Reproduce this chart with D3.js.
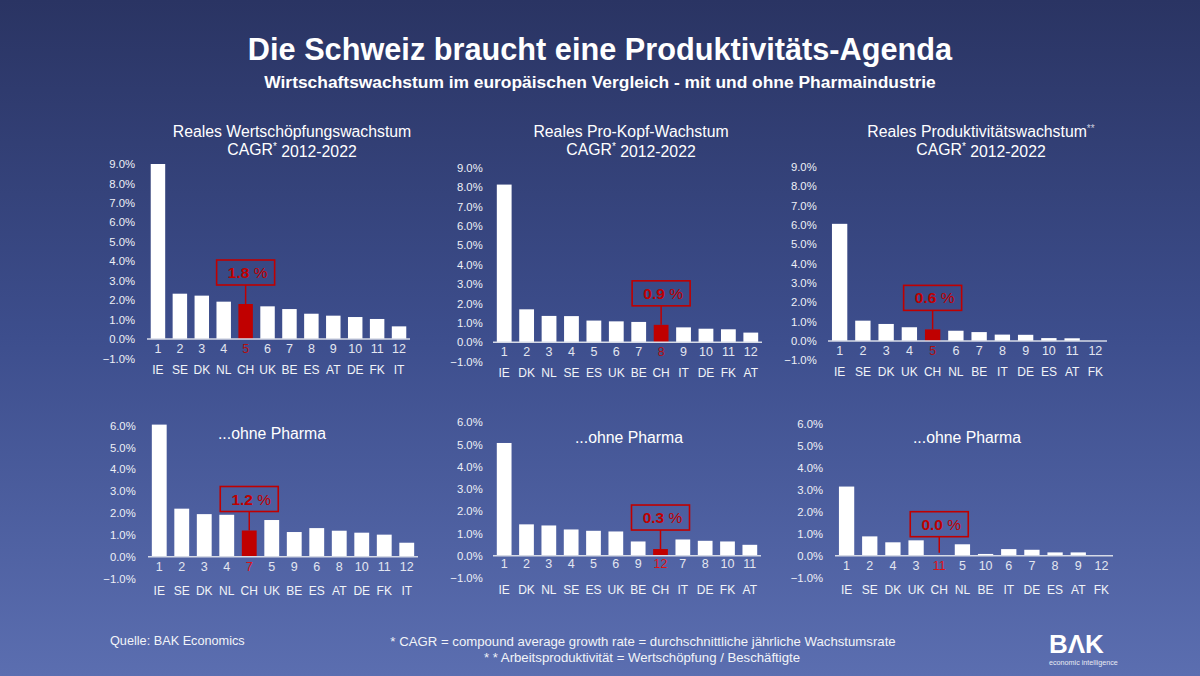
<!DOCTYPE html>
<html><head><meta charset="utf-8">
<script src="https://cdn.jsdelivr.net/npm/d3@7"></script>
<style>body{margin:0;background:#2a3564}svg{display:block}</style>
</head><body>
<svg id="c" width="1200" height="676"></svg>
<script>
// ---------- DATA ----------
const countries1 = ["IE","SE","DK","NL","CH","UK","BE","ES","AT","DE","FK","IT"];
const values1    = [9.0,2.33,2.23,1.92,1.8,1.68,1.54,1.30,1.20,1.13,1.03,0.65];
const ranks1     = [1,2,3,4,5,6,7,8,9,10,11,12];

const countries2 = ["IE","DK","NL","SE","ES","UK","BE","CH","IT","DE","FK","AT"];
const values2    = [8.13,1.70,1.36,1.35,1.12,1.08,1.05,0.9,0.77,0.70,0.67,0.50];
const ranks2     = [1,2,3,4,5,6,7,8,9,10,11,12];

const countries3 = ["IE","SE","DK","UK","CH","NL","BE","IT","DE","ES","AT","FK"];
const values3    = [6.05,1.05,0.88,0.71,0.6,0.53,0.46,0.33,0.32,0.15,0.14,0.0];
const ranks3     = [1,2,3,4,5,6,7,8,9,10,11,12];

const countries4 = ["IE","SE","DK","NL","CH","UK","BE","ES","AT","DE","FK","IT"];
const values4    = [6.05,2.20,1.95,1.92,1.2,1.68,1.13,1.31,1.19,1.10,1.01,0.64];
const ranks4     = [1,2,3,4,7,5,9,6,8,10,11,12];

const countries5 = ["IE","DK","NL","SE","ES","UK","BE","CH","IT","DE","FK","AT"];
const values5    = [5.07,1.41,1.36,1.18,1.12,1.09,0.64,0.3,0.73,0.67,0.64,0.49];
const ranks5     = [1,2,3,4,5,6,9,12,7,8,10,11];

const countries6 = ["IE","SE","DK","UK","CH","NL","BE","IT","DE","ES","AT","FK"];
const values6    = [3.15,0.88,0.61,0.70,0.0,0.52,0.08,0.30,0.27,0.15,0.15,0.0];
const ranks6     = [1,2,4,3,11,5,10,6,7,8,9,12];

const yTicksTop    = [-1,0,1,2,3,4,5,6,7,8,9];
const yTicksBottom = [-1,0,1,2,3,4,5,6];

const mainTitle = "Die Schweiz braucht eine Produktivitäts-Agenda";
const subTitle  = "Wirtschaftswachstum im europäischen Vergleich - mit und ohne Pharmaindustrie";
const panelTitles = [
  ["Reales Wertschöpfungswachstum", "CAGR"],
  ["Reales Pro-Kopf-Wachstum", "CAGR"],
  ["Reales Produktivitätswachstum", "CAGR"],
  ["...ohne Pharma"], ["...ohne Pharma"], ["...ohne Pharma"]
];
const sourceText = "Quelle: BAK Economics";
const note1 = "* CAGR = compound average growth rate = durchschnittliche jährliche Wachstumsrate";
const note2 = "* * Arbeitsproduktivität = Wertschöpfung / Beschäftigte";

// ---------- LAYOUT ----------
const layouts = [
  {x0:147, x1:410,  yTop:164,   yZero:339,   maxV:9, labelX:135,   rankY:349,   countryY:370,   tx:292, ty:[131,149], ticks:yTicksTop, two:true},
  {x0:493, x1:762,  yTop:167.7, yZero:342.3, maxV:9, labelX:482.7, rankY:352,   countryY:373,   tx:631, ty:[131,149], ticks:yTicksTop, two:true},
  {x0:828, x1:1107, yTop:166.7, yZero:341,   maxV:9, labelX:816.7, rankY:350.7, countryY:372,   tx:981, ty:[131,149], ticks:yTicksTop, two:true, stars:true},
  {x0:148, x1:418,  yTop:425.7, yZero:556.7, maxV:6, labelX:135.7, rankY:566.7, countryY:591,   tx:272, ty:[433], ticks:yTicksBottom},
  {x0:493, x1:761,  yTop:422.3, yZero:555.7, maxV:6, labelX:482.7, rankY:564,   countryY:589.3, tx:629, ty:[437], ticks:yTicksBottom},
  {x0:835, x1:1113, yTop:424,   yZero:555.7, maxV:6, labelX:823,   rankY:566,   countryY:589.3, tx:967, ty:[437], ticks:yTicksBottom}
];
const datasets = [
  [countries1, values1, ranks1],
  [countries2, values2, ranks2],
  [countries3, values3, ranks3],
  [countries4, values4, ranks4],
  [countries5, values5, ranks5],
  [countries6, values6, ranks6]
];

const FONT = "'Liberation Sans', Arial, sans-serif";
const RED = "#C00000";
const svg = d3.select("#c");

// background gradient
const defs = svg.append("defs");
const grad = defs.append("linearGradient").attr("id","bg").attr("x1",0).attr("y1",0).attr("x2",0).attr("y2",1);
grad.append("stop").attr("offset","0%").attr("stop-color","#2a3463");
grad.append("stop").attr("offset","50%").attr("stop-color","#3d4e8d");
grad.append("stop").attr("offset","100%").attr("stop-color","#5b6eb0");
svg.append("rect").attr("width",1200).attr("height",676).attr("fill","url(#bg)");

// titles
svg.append("text").attr("x",600).attr("y",60).attr("text-anchor","middle")
  .attr("font-family",FONT).attr("font-weight","bold").attr("font-size",30.7).attr("fill","#fff").text(mainTitle);
svg.append("text").attr("x",600).attr("y",88).attr("text-anchor","middle")
  .attr("font-family",FONT).attr("font-weight","bold").attr("font-size",17.4).attr("fill","#fff").text(subTitle);

const fmt = d3.format(".1f");

layouts.forEach((L, i) => {
  const [cats, vals, ranks] = datasets[i];
  const g = svg.append("g");
  const x = d3.scaleBand().domain(cats).range([L.x0, L.x1]).paddingInner(0.34).paddingOuter(0.17);
  const y = d3.scaleLinear().domain([0, L.maxV]).range([L.yZero, L.yTop]);

  // panel title
  const t1 = g.append("text").attr("x",L.tx).attr("y",L.ty[0]).attr("dy","0.35em").attr("text-anchor","middle")
    .attr("font-family",FONT).attr("font-size",15.8).attr("fill","#fff");
  t1.append("tspan").text(panelTitles[i][0]);
  if (L.stars) t1.append("tspan").attr("dy","-0.45em").attr("font-size",10).attr("fill","#c9cedd").text("**");
  if (L.two) {
    const t2 = g.append("text").attr("x",L.tx).attr("y",L.ty[1]).attr("dy","0.35em").attr("text-anchor","middle")
      .attr("font-family",FONT).attr("font-size",15.8).attr("fill","#fff");
    t2.append("tspan").text(panelTitles[i][1]);
    t2.append("tspan").attr("dy","-0.45em").attr("font-size",10).text("*");
    t2.append("tspan").attr("dy","0.45em").text(" 2012-2022");
  }

  // y axis labels
  const ya = g.append("g").attr("transform",`translate(${L.labelX},0)`)
    .call(d3.axisLeft(y).tickValues(L.ticks).tickSize(0).tickPadding(0).tickFormat(d => fmt(d) + "%"));
  ya.select(".domain").remove();
  ya.selectAll("text").attr("font-family",FONT).attr("font-size",11.3).attr("fill","#eef0f6");

  // bars
  g.selectAll("rect.bar").data(cats).enter().append("rect").attr("class","bar")
    .attr("x", d => x(d)).attr("width", x.bandwidth())
    .attr("y", (d,j) => y(Math.max(0, vals[j])))
    .attr("height", (d,j) => Math.abs(y(vals[j]) - y(0)))
    .attr("fill", d => d === "CH" ? RED : "#ffffff");

  // baseline
  g.append("line").attr("x1",L.x0).attr("x2",L.x1).attr("y1",y(0)).attr("y2",y(0))
    .attr("stroke","#d6dae6").attr("stroke-width",1.5);

  // rank labels
  const ra = g.append("g").attr("transform",`translate(0,${L.rankY})`)
    .call(d3.axisBottom(x).tickSize(0).tickPadding(0).tickFormat((d) => ranks[cats.indexOf(d)]));
  ra.select(".domain").remove();
  ra.selectAll("text").attr("y",0).attr("dy","0.35em").attr("font-family",FONT).attr("font-size",12.5)
    .attr("fill", d => d === "CH" ? (i < 3 ? "#b01010" : "#e01010") : "#e3e6f0");

  // country labels
  const ca = g.append("g").attr("transform",`translate(0,${L.countryY})`)
    .call(d3.axisBottom(x).tickSize(0).tickPadding(0));
  ca.select(".domain").remove();
  ca.selectAll("text").attr("y",0).attr("dy","0.35em").attr("font-family",FONT).attr("font-size",12)
    .attr("fill","#f2f4f8");

  // callout
  const ci = cats.indexOf("CH");
  const cx = x("CH") + x.bandwidth()/2;
  const barTop = y(Math.max(0, vals[ci]));
  const endY = vals[ci] === 0 ? barTop - 3 : barTop;
  const boxB = barTop - 19, boxH = 25, boxW = 58;
  g.append("line").attr("x1",cx).attr("x2",cx).attr("y1",boxB).attr("y2",endY)
    .attr("stroke",RED).attr("stroke-width",1.5);
  g.append("rect").attr("x",cx - boxW/2).attr("y",boxB - boxH).attr("width",boxW).attr("height",boxH)
    .attr("fill","none").attr("stroke",RED).attr("stroke-width",1.6);
  const ct = g.append("text").attr("x",cx + 2).attr("y",boxB - boxH/2).attr("dy","0.36em").attr("text-anchor","middle")
    .attr("font-family",FONT).attr("font-size",15.5).attr("fill",RED);
  ct.append("tspan").attr("font-weight","bold").text(fmt(vals[ci]));
  ct.append("tspan").text(" %");
});

// footer
svg.append("text").attr("x",110).attr("y",641).attr("dy","0.35em").attr("font-family",FONT)
  .attr("font-size",12.7).attr("fill","#f2f4f8").text(sourceText);
svg.append("text").attr("x",643).attr("y",641).attr("dy","0.35em").attr("text-anchor","middle").attr("font-family",FONT)
  .attr("font-size",13.2).attr("fill","#f2f4f8").text(note1);
svg.append("text").attr("x",642).attr("y",657).attr("dy","0.35em").attr("text-anchor","middle").attr("font-family",FONT)
  .attr("font-size",13.2).attr("fill","#f2f4f8").text(note2);

// logo
const logo = svg.append("g");
logo.append("text").attr("x",1049).attr("y",653).attr("font-family",FONT).attr("font-weight","bold")
  .attr("font-size",26).attr("fill","#fff").text("BΛK");
logo.append("text").attr("x",1049).attr("y",665).attr("font-family",FONT)
  .attr("font-size",7.2).attr("fill","#e8ebf4").text("economic intelligence");
</script>
</body></html>
